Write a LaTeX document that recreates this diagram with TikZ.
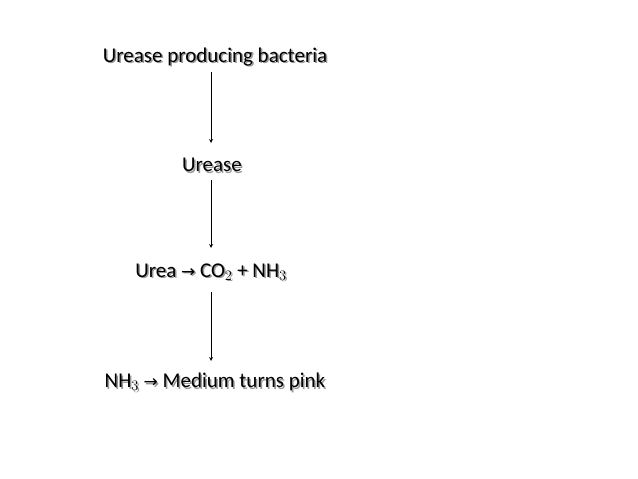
\documentclass[tikz,border=0pt]{standalone}
\usepackage{fontspec}
\setmainfont{Carlito}
\newfontfamily\symfont{DejaVu Sans}
\tikzset{
  lbl/.style={font=\fontsize{21}{24}\selectfont, inner sep=0pt, text=black},
  shd/.style={font=\fontsize{21}{24}\selectfont, inner sep=0pt, text=black!40},
  arr/.style={->, >=stealth, thick}
}
\newcommand{\rarr}{{\symfont\fontsize{17}{20}\selectfont →}}
\newcommand{\shnode}[3]{%
  \node[shd] at ([xshift=1.5pt,yshift=-1.5pt]#2) {#3};
  \node[lbl] (#1) at (#2) {#3};}
\begin{document}
\begin{tikzpicture}[x=1pt,y=1pt]
\useasboundingbox[fill=white] (0,0) rectangle (638,-479);
\shnode{a}{215,-57}{Urease producing bacteria}
\shnode{b}{212,-165}{Urease}
\shnode{c}{211,-272}{Urea \rarr{} CO$_2$ + NH$_3$}
\shnode{d}{215,-382}{NH$_3$ \rarr{} Medium turns pink}
\coordinate (a1) at (211,-72); \coordinate (a2) at (211,-143);
\coordinate (b1) at (211,-180); \coordinate (b2) at (211,-248);
\coordinate (c1) at (211,-292); \coordinate (c2) at (211,-361);
\draw[arr] (a1) -- (a2);
\draw[arr] (b1) -- (b2);
\draw[arr] (c1) -- (c2);
\end{tikzpicture}
\end{document}
